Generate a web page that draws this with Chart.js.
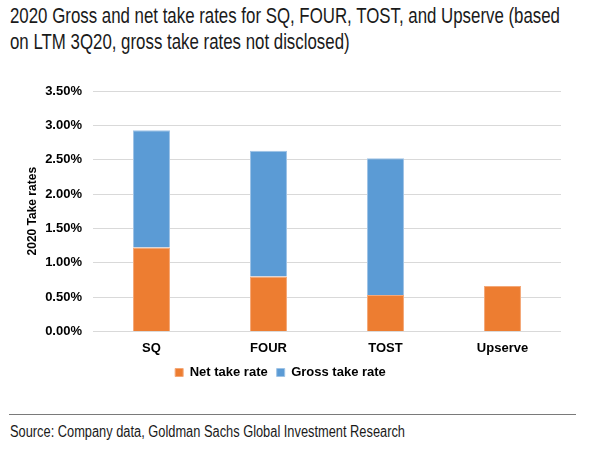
<!DOCTYPE html>
<html>
<head>
<meta charset="utf-8">
<script src="https://cdn.jsdelivr.net/npm/chart.js@4.4.0/dist/chart.umd.min.js"></script>
<style>
  body { margin: 0; background: #fff; width: 589px; height: 450px; overflow: hidden; position: relative; }
  .narrow { position: absolute; left: 10px; white-space: nowrap; font-family: "Liberation Sans", Arial, sans-serif; color: #1a1a1a; transform-origin: 0 0; }
  .t1 { top: 3px; font-size: 22px; line-height: 26px; }
  .t2 { top: 29px; font-size: 22px; line-height: 26px; }
  .chartbox { position: absolute; left: 0; top: 60px; width: 589px; height: 330px; }
  .rule { position: absolute; left: 9px; top: 414px; width: 567px; height: 0; border-top: 1.5px solid #7a7a7a; }
  .src { top: 423px; font-size: 16px; line-height: 18px; }
</style>
</head>
<body>
<div class="narrow t1" id="t1">2020 Gross and net take rates for SQ, FOUR, TOST, and Upserve (based</div>
<div class="narrow t2" id="t2">on LTM 3Q20, gross take rates not disclosed)</div>
<div class="chartbox"><canvas id="takeChart"></canvas></div>
<div class="rule"></div>
<div class="narrow src" id="src">Source: Company data, Goldman Sachs Global Investment Research</div>
<script>
// values in percent
const companies = ['SQ', 'FOUR', 'TOST', 'Upserve'];
const netTakeRate = [1.22, 0.80, 0.53, 0.66];
const grossOnTop = [1.71, 1.83, 1.99, null]; // gross minus net, stacked above
const yTicks = [0, 0.5, 1.0, 1.5, 2.0, 2.5, 3.0, 3.5];

// squeeze title and source to the condensed look of the original
const t1 = document.getElementById('t1');
const t2 = document.getElementById('t2');
const src = document.getElementById('src');
const sTitle = 550 / t1.getBoundingClientRect().width;
t1.style.transform = 'scaleX(' + sTitle + ')';
t2.style.transform = 'scaleX(' + sTitle + ')';
src.style.transform = 'scaleX(' + (395 / src.getBoundingClientRect().width) + ')';

const ctx = document.getElementById('takeChart').getContext('2d');
const font = { family: '"Liberation Sans", Arial, sans-serif', size: 13, weight: 'bold' };

new Chart(ctx, {
    type: 'bar',
    data: {
        labels: companies,
        datasets: [
            {
                label: 'Net take rate',
                data: netTakeRate,
                backgroundColor: '#ED7D31',
                borderColor: '#F4A878',
                borderWidth: 1,
                barPercentage: 0.316,
                categoryPercentage: 1
            },
            {
                label: 'Gross take rate',
                data: grossOnTop,
                backgroundColor: '#5B9BD5',
                borderColor: '#9EC3E6',
                borderWidth: 1,
                barPercentage: 0.316,
                categoryPercentage: 1
            }
        ]
    },
    options: {
        responsive: true,
        maintainAspectRatio: false,
        animation: false,
        layout: { padding: { top: 31, right: 28, bottom: 1, left: 0 } },
        plugins: {
            tooltip: { enabled: false },
            legend: {
                position: 'bottom',
                labels: { color: '#000', font: font, boxWidth: 8, boxHeight: 8, padding: 9 }
            }
        },
        scales: {
            x: {
                stacked: true,
                grid: { display: false },
                border: { display: false },
                ticks: { color: '#000', font: font, padding: 1 }
            },
            y: {
                stacked: true,
                min: 0,
                max: 3.5,
                afterBuildTicks: (scale) => { scale.ticks = yTicks.map(v => ({ value: v })); },
                afterFit: (scale) => { scale.width = 93; },
                grid: { color: '#D9D9D9', lineWidth: 1, drawTicks: false },
                border: { display: false },
                ticks: {
                    color: '#000',
                    font: font,
                    padding: 11,
                    callback: (v) => v.toFixed(2) + '%'
                },
                title: {
                    display: true,
                    text: '2020 Take rates',
                    color: '#000',
                    font: { family: font.family, size: 12, weight: 'bold' },
                    padding: { top: 25, bottom: 4 }
                }
            }
        }
    }
});
</script>
</body>
</html>
